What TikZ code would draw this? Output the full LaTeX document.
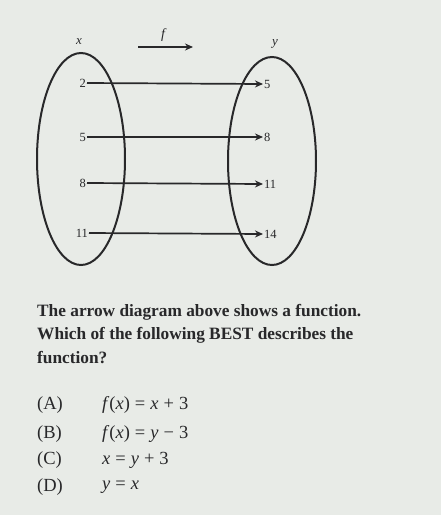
\documentclass[tikz,border=0pt]{standalone}
\usepackage{fontspec}
\setmainfont{Liberation Serif}
\usetikzlibrary{arrows.meta}
\definecolor{bg}{RGB}{232,235,231}
\definecolor{ink}{RGB}{40,40,42}
\tikzset{
  val/.style={text=ink, font=\fontsize{12.5}{14}\selectfont, inner sep=1pt},
  mapto/.style={draw=ink, line width=1.7pt, -{Stealth[length=8pt,width=7pt]}},
  para/.style={text=ink, font=\bfseries\fontsize{17.3}{23}\selectfont, anchor=west, inner sep=0pt},
  opt/.style={text=ink, font=\fontsize{18.5}{20}\selectfont, anchor=west, inner sep=0pt},
}
\newcommand{\eqsp}{\hspace{5pt}}
\begin{document}
\begin{tikzpicture}[x=1pt,y=-1pt]
\fill[bg] (0,0) rectangle (441,515);
\useasboundingbox (0,0) rectangle (441,515);
% ovals
\draw[ink, line width=2pt] (81,159) ellipse [x radius=44, y radius=106];
\draw[ink, line width=2pt] (272,161) ellipse [x radius=44, y radius=104];
% headings
\node[text=ink, font=\itshape\fontsize{13}{14}\selectfont] (xl) at (79,42) {x};
\node[text=ink, font=\itshape\fontsize{13}{14}\selectfont] (yl) at (275,44) {y};
\node[text=ink, font=\itshape\fontsize{14}{14}\selectfont] (fl) at (163,35) {f};
\coordinate (fa) at (138,47);
\coordinate (fb) at (193,47);
\draw[mapto] (fa) -- (fb);
% domain values
\node[val, anchor=east] (d1) at (87,83) {2};
\node[val, anchor=east] (d2) at (87,137) {5};
\node[val, anchor=east] (d3) at (87,183) {8};
\node[val, anchor=east] (d4) at (89,233) {11};
% range values
\node[val, anchor=west] (r1) at (263,84) {5};
\node[val, anchor=west] (r2) at (263,137) {8};
\node[val, anchor=west] (r3) at (263,184) {11};
\node[val, anchor=west] (r4) at (263,234) {14};
% arrows
\draw[mapto] (d1.east) -- (r1.west);
\draw[mapto] (d2.east) -- (r2.west);
\draw[mapto] (d3.east) -- (r3.west);
\draw[mapto] (d4.east) -- (r4.west);
% question text
\node[para] (q1) at (37,312) {The arrow diagram above shows a function.};
\node[para] (q2) at (37,335) {Which of the following BEST describes the};
\node[para] (q3) at (37,358) {function?};
% options
\node[opt] (oa) at (37,405) {(A)};
\node[opt] (ob) at (37,434) {(B)};
\node[opt] (oc) at (37,460) {(C)};
\node[opt] (od) at (37,487) {(D)};
\node[opt] (fa1) at (102,405) {\textit{f}(\textit{x})\eqsp=\eqsp\textit{x}\eqsp+\eqsp3};
\node[opt] (fb1) at (102,434) {\textit{f}(\textit{x})\eqsp=\eqsp\textit{y}\eqsp\textminus\eqsp3};
\node[opt] (fc1) at (102,460) {\textit{x}\eqsp=\eqsp\textit{y}\eqsp+\eqsp3};
\node[opt] (fd1) at (102,487) {\textit{y}\eqsp=\eqsp\textit{x}};
\end{tikzpicture}
\end{document}
